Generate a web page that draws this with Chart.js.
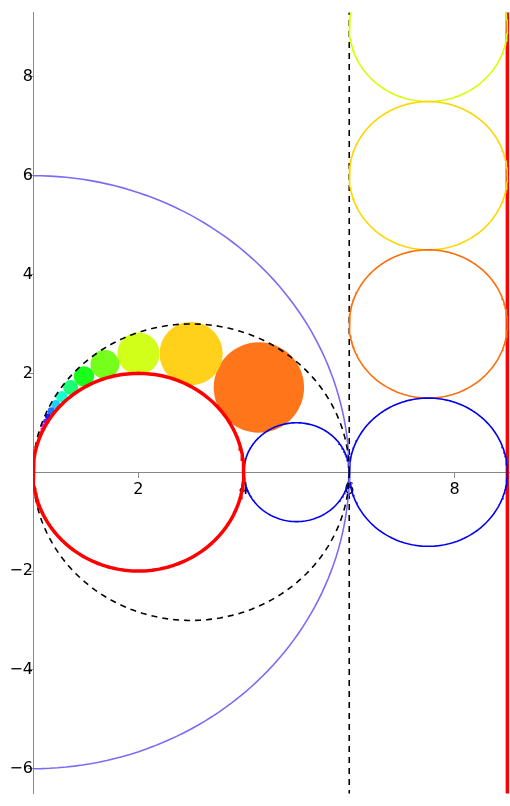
<!DOCTYPE html>
<html><head><meta charset="utf-8">
<script src="https://cdn.jsdelivr.net/npm/chart.js@4"></script>
<style>html,body{margin:0;padding:0;background:#fff}#w{width:510px;height:806px}</style>
</head><body><div id="w"><canvas id="c"></canvas></div>
<script>
const chainN = [1,2,3,4,5,6,7,8,9,10,11,12,13,14,15];
const chainX = [4.286,3.0,2.0,1.364,0.968,0.714,0.545,0.429,0.346,0.284,0.237,0.201,0.172,0.148,0.129];
const chainY = [1.714,2.4,2.4,2.182,1.935,1.714,1.527,1.371,1.239,1.126,1.030,0.946,0.873,0.809,0.753];
const chainR = [0.857,0.6,0.4,0.273,0.194,0.143,0.109,0.086,0.069,0.056,0.047,0.040,0.034,0.029,0.025];
// outlined circles: [cx, cy, r]
const outlineCX = [2, 3, 0, 5, 7.5, 7.5, 7.5, 7.5];
const outlineCY = [0, 0, 0, 0, 0, 3, 6, 9];
const outlineR  = [2, 3, 6, 1, 1.5, 1.5, 1.5, 1.5];
const outlineColor = ['#ff0000','#000000','#7b6cf6','#0000ee','#0000ee','hsl(24,100%,52%)','hsl(50,100%,50%)','hsl(70,100%,50%)'];
const outlineWidth = [3.5,1.6,1.6,1.6,1.6,1.6,1.6,1.6];
const outlineDash = [[],[6,5],[],[],[],[],[],[]];
const xTicks=[2,4,6,8], yTicks=[-6,-4,-2,2,4,6,8];

function circ(cx,cy,r){const p=[];for(let i=0;i<=240;i++){const t=2*Math.PI*i/240;p.push({x:cx+r*Math.cos(t),y:cy+r*Math.sin(t)});}return p;}
const ds=[];
outlineCX.forEach((cx,i)=>ds.push({type:'line',data:circ(cx,outlineCY[i],outlineR[i]),borderColor:outlineColor[i],borderWidth:outlineWidth[i],borderDash:outlineDash[i],pointRadius:0,fill:false,tension:0}));
ds.push({type:'line',data:[{x:6,y:-7},{x:6,y:10}],borderColor:'#000',borderWidth:1.6,borderDash:[6,5],pointRadius:0});
ds.push({type:'line',data:[{x:9,y:-7},{x:9,y:10}],borderColor:'#ff0000',borderWidth:3.5,pointRadius:0});
ds.push({type:'scatter',data:chainN.map((n,i)=>({x:chainX[i],y:chainY[i]})),
 backgroundColor:chainN.map(n=>`hsl(${24*n},100%,55%)`),borderWidth:0,showLine:false,
 pointRadius:ctx=>{const s=ctx.chart.scales.x;const r=chainR[ctx.dataIndex]||0;return Math.abs(s.getPixelForValue(r)-s.getPixelForValue(0));},
 pointHoverRadius:ctx=>{const s=ctx.chart.scales.x;const r=chainR[ctx.dataIndex]||0;return Math.abs(s.getPixelForValue(r)-s.getPixelForValue(0));}});
new Chart(document.getElementById('c'),{
 data:{datasets:ds},
 options:{responsive:true,maintainAspectRatio:false,animation:false,
  layout:{padding:{left:33,right:0,top:0,bottom:0}},
  plugins:{legend:{display:false},tooltip:{enabled:false}},
  scales:{
   x:{type:'linear',min:0,max:9.05,position:{y:0},
    afterBuildTicks:a=>{a.ticks=xTicks.map(v=>({value:v}));},
    ticks:{color:'#000',font:{size:16,family:'DejaVu Sans'},callback:v=>String(v).replace('-','\u2212')},
    grid:{drawOnChartArea:false,tickLength:5,color:'#888'},border:{color:'#888'}},
   y:{type:'linear',min:-6.5,max:9.3,position:{x:0},
    afterBuildTicks:a=>{a.ticks=yTicks.map(v=>({value:v}));},
    ticks:{color:'#000',font:{size:16,family:'DejaVu Sans'},callback:v=>String(v).replace('-','\u2212')},
    grid:{drawOnChartArea:false,tickLength:5,color:'#888'},border:{color:'#888'}}
  }}
});
</script></body></html>
